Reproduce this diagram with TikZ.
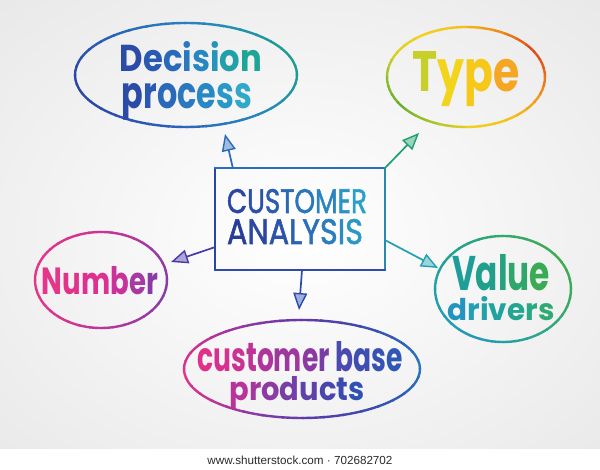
\documentclass[tikz,border=0pt]{standalone}
\usepackage{fontspec}
\setmainfont{Poppins}
\newfontfamily\footfont{Liberation Sans}
\newfontfamily\capfont[FakeBold=1.6]{Poppins}
\usepackage{graphicx}
\usetikzlibrary{arrows.meta,calc,shapes.geometric}
\newcommand\cc[2]{\textcolor[HTML]{#1}{#2}}
% two centred lines: #1 width, #2 baseline distance, #3 shift of line 1, #4 line 1, #5 line 2
\newcommand\twolines[5]{\vtop{\baselineskip=#2\lineskiplimit=-100pt\lineskip=0pt
  \hbox to #1{\hss\kern#3#4\hss}\hbox to #1{\hss#5\hss}}}
\tikzset{
  ell/.style={line width=2.4pt, line cap=round},
  holder/.style={ellipse, draw=none, inner sep=0pt},
  word/.style={anchor=base, inner sep=0pt},
  arr/.style={line width=1.7pt, line cap=round, draw=#1,
     -{Triangle[length=17pt,width=14pt,fill=#1!45,line width=1.4pt]}},
  sidel/.style={line width=2pt, line cap=round}
}
% gradient ellipse: #1 centre node, #2 rx, #3 ry, #4 13 HTML colours at 0,30,...,360 deg
\newcommand\gradell[4]{%
  \foreach \c [count=\k from 0, remember=\c as \p (initially 000000)] in {#4}{%
    \ifnum\k>0
      \definecolor{cA}{HTML}{\p}\definecolor{cB}{HTML}{\c}%
      \foreach \s in {0,1,2}{%
        \pgfmathsetmacro\aa{(\k-1)*30+\s*10}%
        \pgfmathtruncatemacro\pc{100-\s*33}%
        \draw[ell, color=cA!\pc!cB] ($(#1)+(\aa:#2pt and #3pt)$)
          arc[start angle=\aa, delta angle=11, x radius=#2pt, y radius=#3pt];
      }%
    \fi}}
\begin{document}
\begin{tikzpicture}[x=1pt,y=1pt]
\useasboundingbox (0,0) rectangle (600,470);
% background
\shade[inner color=white, outer color=black!9] (-150,-100) rectangle (750,570);
\fill[white] (0,0) rectangle (600,21);
\node[font=\footfont, inner sep=0pt] (foot) at (300,10)
  {\resizebox{185pt}{!}{\color[HTML]{2A2A2A}www.shutterstock.com · 702682702}};

% central box
\node[minimum width=170pt, minimum height=102pt, inner sep=0pt] (box) at (300,251) {};
\draw[sidel, color={rgb,255:red,43;green,69;blue,165}] (box.south west) -- (box.north west);
\draw[sidel, color={rgb,255:red,42;green,112;blue,184}] (box.north west) -- (box.north east);
\draw[sidel, color={rgb,255:red,40;green,136;blue,176}] (box.north east) -- (box.south east);
\draw[sidel, color={rgb,255:red,47;green,74;blue,168}] (box.south east) -- (box.south west);
\node[word, font=\capfont] (cus) at (297,257) {\resizebox{140pt}{24pt}{\cc{2B45A5}{C}\cc{2B50AA}{U}\cc{2A5CB0}{S}\cc{2A68B6}{T}\cc{2A76BC}{O}\cc{2A84C0}{M}\cc{2A92C4}{E}\cc{2AA0C8}{R}}};
\node[word, font=\capfont] (ana) at (295,226) {\resizebox{136pt}{25pt}{\cc{283D9A}{A}\cc{2A48A2}{N}\cc{2A55AA}{A}\cc{2A62B2}{L}\cc{2A70B8}{Y}\cc{2A7EBE}{S}\cc{2A8CC2}{I}\cc{2A98C4}{S}}};

% Decision process
\node[holder, minimum width=222pt, minimum height=104pt] (dp) at (186,395) {};
\gradell{dp.center}{111}{52}{1E9E8E,1E9A98,2290B0,2A7EC0,2A66B8,2B52AE,2B45A5,2B48A8,2B55B2,2A6ABC,2882C0,2294A8,1E9E8E}
\node[word, font=\bfseries] (dptext) at (187,398) {\twolines{170pt}{37pt}{8pt}%
  {\resizebox{142pt}{30pt}{\cc{2B4BA8}{D}\cc{2A59B2}{e}\cc{2A68BA}{c}\cc{2A78BF}{i}\cc{2886C0}{s}\cc{2594BA}{i}\cc{22A0AA}{o}\cc{1FA595}{n}}}%
  {\resizebox{130pt}{25pt}{\cc{2B4BA8}{p}\cc{2B58B2}{r}\cc{2A68BA}{o}\cc{2A78C0}{c}\cc{2888C4}{e}\cc{2898C8}{s}\cc{30A8CC}{s}}}};

% Type
\node[holder, minimum width=158pt, minimum height=100pt] (ty) at (466,393) {};
\gradell{ty.center}{79}{50}{E8651A,E04A18,EE8A18,F3C21A,F2D21E,D8D025,8CBE2E,6AAE2E,A8C42A,EFD020,F5C01C,F29A1E,E8651A}
\node[word] (ty1) at (466,378) {\resizebox{107pt}{40pt}{\bfseries\cc{C8CF2A}{T}\cc{F2D41A}{y}\cc{F6C81A}{p}\cc{F5A623}{e}}};

% Number
\node[holder, minimum width=132pt, minimum height=96pt] (nu) at (101,190) {};
\gradell{nu.center}{66}{48}{8A3CA6,9A3AA2,B8369A,D23292,DE318C,E4348A,E43788,E0358C,D03494,B8369A,A0389F,8A3CA6,8A3CA6}
\node[word] (nu1) at (100,175) {\resizebox{116pt}{28pt}{\bfseries\cc{E4378C}{N}\cc{E2338A}{u}\cc{DD3090}{m}\cc{C8329A}{b}\cc{A838A2}{e}\cc{8A3AA4}{r}}};

% Value drivers
\node[holder, minimum width=136pt, minimum height=106pt] (vd) at (503,181) {};
\gradell{vd.center}{68}{53}{3CAA58,40AC50,3AAA5E,30A872,26A28A,20A09C,20A0A8,229CB4,2298B8,24A0A4,2EA68A,38A968,3CAA58}
\node[word, font=\bfseries] (vdtext) at (501,179) {\twolines{120pt}{30pt}{0pt}%
  {\resizebox{98pt}{36pt}{\cc{1E9E98}{V}\cc{209F8C}{a}\cc{26A27E}{l}\cc{2EA66C}{u}\cc{3AAA55}{e}}}%
  {\resizebox{107pt}{24pt}{\cc{2394C0}{d}\cc{21A0B4}{r}\cc{20A2A8}{i}\cc{20A39E}{v}\cc{22A592}{e}\cc{28A884}{r}\cc{30AA74}{s}}}};

% Customer base products
\node[holder, minimum width=236pt, minimum height=98pt] (cb) at (302,101) {};
\gradell{cb.center}{118}{49}{2A78C0,2F60B8,4444AA,6A38A8,9C34A0,CC3192,E33288,CC3292,8C38A4,5A3CAC,3A4AB0,2D62BA,2A78C0}
\node[word, font=\bfseries] (cbtext) at (297,98) {\twolines{220pt}{29pt}{6pt}%
  {\resizebox{205pt}{30pt}{\cc{E0308A}{c}\cc{D8308E}{u}\cc{CC3292}{s}\cc{BE3496}{t}\cc{AE369A}{o}\cc{9E389E}{m}\cc{8C3AA2}{e}\cc{7A3CA6}{r} \cc{4A4AB0}{b}\cc{3F4EB2}{a}\cc{3752B4}{s}\cc{2F58B6}{e}}}%
  {\resizebox{135pt}{24pt}{\cc{B8349A}{p}\cc{A3389E}{r}\cc{8E3AA4}{o}\cc{763EA8}{d}\cc{5E42AC}{u}\cc{4A46AE}{c}\cc{3C4AB0}{t}\cc{2F50B4}{s}}}};

% arrows
\definecolor{aup}{HTML}{2A6AB8}
\definecolor{atr}{HTML}{1FA070}
\definecolor{alf}{HTML}{4A3AA8}
\definecolor{art}{HTML}{22A0B0}
\definecolor{adn}{HTML}{2B4AB0}
\coordinate (tipdp) at (225,336);
\coordinate (tipty) at (419,337);
\coordinate (tipnu) at (171,208);
\coordinate (tipvd) at (438,202);
\coordinate (tipcb) at (299,160);
\draw[arr=aup] ($(box.north west)+(18,0)$) -- (tipdp);
\draw[arr=atr] (box.north east) -- (tipty);
\draw[arr=alf] ($(box.south west)+(0,23)$) -- (tipnu);
\draw[arr=art] ($(box.south east)+(0,30)$) -- (tipvd);
\draw[arr=adn] ($(box.south)+(2,0)$) -- (tipcb);
\end{tikzpicture}
\end{document}
